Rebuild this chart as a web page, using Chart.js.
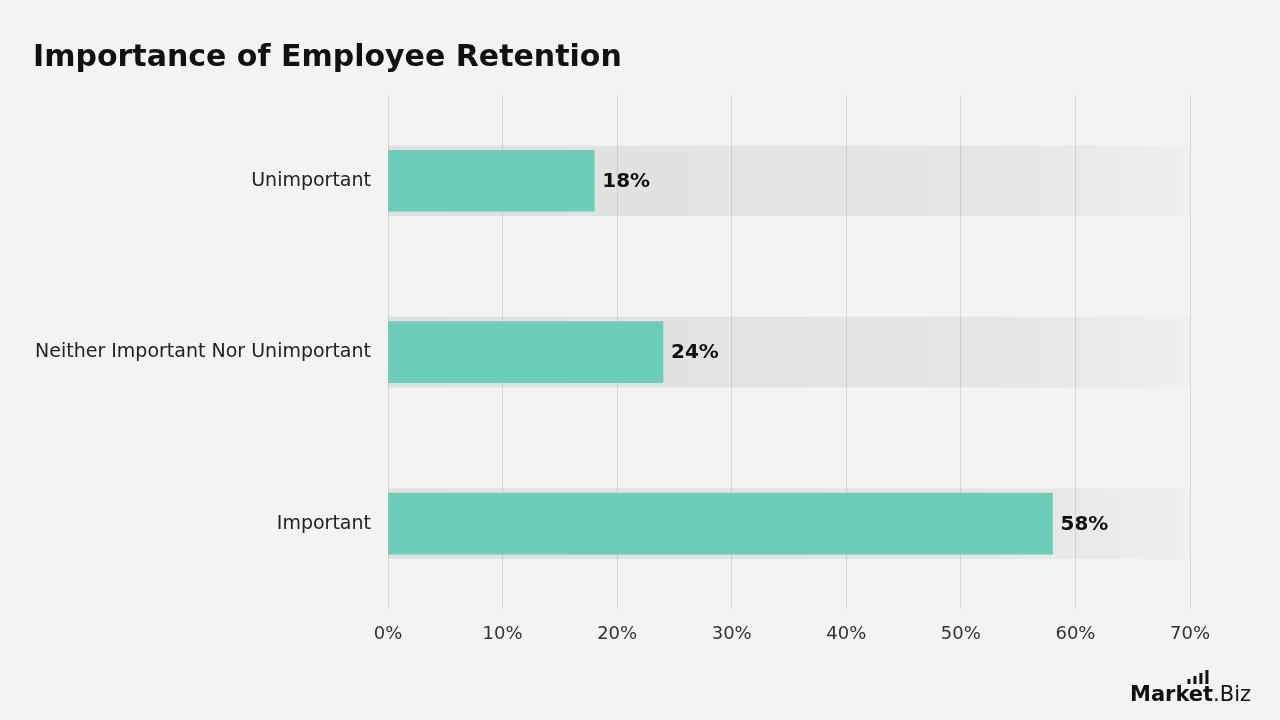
<!DOCTYPE html>
<html>
<head>
<meta charset="utf-8">
<script src="https://cdn.jsdelivr.net/npm/chart.js@4.4.1/dist/chart.umd.min.js"></script>
<style>
  html, body { margin: 0; padding: 0; background: #f3f3f3; }
  #wrap { width: 1280px; height: 720px; position: relative; }
</style>
</head>
<body>
<div id="wrap"><canvas id="retentionChart" width="1280" height="720"></canvas></div>
<script>
// data
const categories = ["Unimportant", "Neither Important Nor Unimportant", "Important"];
const shares = [18, 24, 58];
const trackMax = [70, 70, 70];
const xTicks = [0, 10, 20, 30, 40, 50, 60, 70];

const FONT = "'DejaVu Sans', 'Open Sans', sans-serif";

// bar value labels + watermark
const valueLabels = {
  id: "valueLabels",
  afterDatasetsDraw(chart) {
    const ctx = chart.ctx;
    const meta = chart.getDatasetMeta(0);
    ctx.save();
    ctx.font = "bold 20px " + FONT;
    ctx.fillStyle = "#111";
    ctx.textAlign = "left";
    ctx.textBaseline = "middle";
    meta.data.forEach(function(bar, i) {
      ctx.fillText(shares[i] + "%", bar.x + 8, bar.y + 1);
    });
    ctx.restore();
  }
};

const watermark = {
  id: "watermark",
  afterDraw(chart) {
    const ctx = chart.ctx;
    ctx.save();
    ctx.fillStyle = "#111";
    ctx.textBaseline = "alphabetic";
    ctx.font = "bold 21px " + FONT;
    const x0 = 1130;
    ctx.fillText("Market", x0, 701);
    const w = ctx.measureText("Market").width;
    const wMar = ctx.measureText("Mar").width;
    ctx.font = "21px " + FONT;
    ctx.fillText(".Biz", x0 + w, 701);
    // little bars above the logo
    const hs = [5, 8, 11, 14];
    hs.forEach(function(h, i) {
      ctx.fillRect(x0 + wMar + 12 + i * 6, 684 - h, 3, h);
    });
    ctx.restore();
  }
};

const ctx = document.getElementById("retentionChart");

function trackGradient(context) {
  const area = context.chart.chartArea;
  if (!area) return "rgba(0,0,0,0.06)";
  const g = context.chart.ctx.createLinearGradient(area.left, 0, area.right, 0);
  g.addColorStop(0, "rgba(0,0,0,0.075)");
  g.addColorStop(0.75, "rgba(0,0,0,0.055)");
  g.addColorStop(1, "rgba(0,0,0,0.015)");
  return g;
}

const chart = new Chart(ctx, {
  type: "bar",
  data: {
    labels: categories,
    datasets: [{
      label: "Share",
      data: shares,
      backgroundColor: "#6ccdb9",
      barThickness: 61,
      grouped: false,
      order: 0
    }, {
      label: "Track",
      data: trackMax,
      backgroundColor: trackGradient,
      barThickness: 70,
      grouped: false,
      order: 1
    }]
  },
  plugins: [valueLabels, watermark],
  options: {
    indexAxis: "y",
    responsive: false,
    animation: false,
    layout: { padding: { left: 33, right: 90, top: 0, bottom: 61 } },
    plugins: {
      legend: { display: false },
      tooltip: { enabled: false },
      title: {
        display: true,
        text: "Importance of Employee Retention",
        align: "start",
        color: "#111",
        font: { family: FONT, size: 30, weight: "bold" },
        padding: { top: 40, bottom: 19 }
      }
    },
    scales: {
      x: {
        min: 0,
        max: 70,
        afterBuildTicks(axis) { axis.ticks = xTicks.map(v => ({ value: v })); },
        border: { display: false },
        grid: { color: "#d8d8d8", lineWidth: 1, drawTicks: false },
        ticks: {
          padding: 14,
          color: "#333",
          font: { family: FONT, size: 18 },
          callback: v => v + "%"
        }
      },
      y: {
        afterFit(axis) { axis.width = 355; },
        border: { display: false },
        grid: { display: false, drawTicks: false },
        ticks: {
          padding: 17,
          color: "#222",
          font: { family: FONT, size: 19 }
        }
      }
    }
  }
});
</script>
</body>
</html>
